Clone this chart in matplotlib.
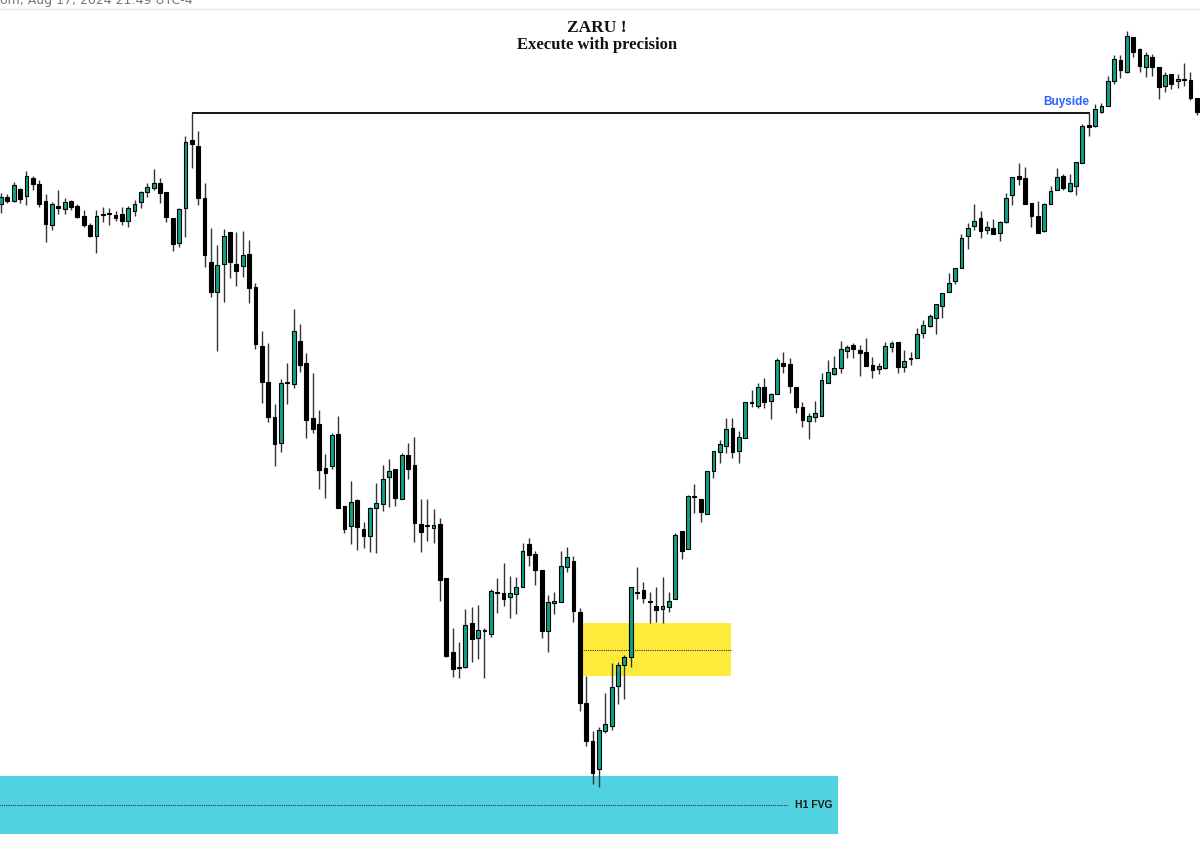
import numpy as np
import matplotlib.pyplot as plt

# OHLC values (arbitrary price units)
opens = [
    796, 802.7, 799.3, 811, 804, 822.3, 816, 799.3, 775, 794,
    791, 799.3, 794, 784, 775, 764.3, 786, 786, 785, 786.3,
    779, 789, 798, 808.3, 812, 817, 808, 782.3, 757, 792,
    860, 854, 802, 738.3, 707.7, 735.7, 768.3, 736, 734, 746,
    713.3, 654.3, 618.3, 582.7, 556.7, 617.7, 616, 659.3, 637.3, 581.7,
    576, 531.7, 534, 566, 494, 474.3, 500, 470.7, 464.3, 492.3,
    495.7, 523.3, 531, 501, 545, 535, 476, 474.7, 472.3, 476,
    421.7, 348.3, 331.7, 332.7, 377.3, 361.7, 369.3, 365.7, 407.7, 407.3,
    402.7, 406, 412.7, 455.7, 446, 430, 369, 397.3, 398.3, 433.3,
    439.3, 388.3, 296.7, 259.3, 230.7, 269, 274.3, 314, 335, 342.7,
    408, 410, 399.3, 394, 390.7, 393.3, 401, 469, 451, 502.7,
    500.7, 485.7, 529.3, 548.3, 554, 572.3, 549, 561.7, 597, 594,
    613.3, 599.3, 606, 637.3, 635.7, 612.7, 592.7, 579.3, 582.7, 584.3,
    617.3, 626, 631.7, 649.3, 655, 650, 648.3, 635.5, 631, 631.7,
    653.3, 658.3, 632.7, 641, 642.3, 667.3, 674, 681.7, 694.3, 708.3,
    719.3, 731.7, 764.3, 774, 781.7, 770, 772.3, 766.7, 778, 805,
    824, 822.3, 796.7, 784.3, 769, 795.7, 810, 824, 809.3, 814.3,
    836.7, 875, 874, 888.3, 894, 919, 940, 928.3, 963, 951,
    933.3, 942.7, 933.3, 914, 926, 919.3, 921, 920, 901.7,
]
highs = [
    807, 806, 818.3, 812, 829, 824, 820, 806, 798, 810,
    802, 800, 796, 790, 777.3, 790, 793, 792, 789.3, 792.7,
    794, 800, 809, 817, 831, 822, 808, 782.3, 792, 864,
    887, 869.3, 817.3, 772, 755, 771, 768.3, 768.3, 769.3, 760,
    717.3, 669, 656.7, 596, 620.7, 636.7, 691, 676, 646.7, 627.3,
    590, 545.7, 566.7, 584.3, 494, 519, 500.7, 478.3, 493.3, 516.7,
    535, 541, 531, 547.3, 556.7, 562.7, 501, 501, 491, 481.7,
    421.7, 371.7, 357.7, 391, 392.7, 395, 371.7, 411, 421.7, 436.7,
    424, 422.7, 456.7, 462.3, 449.3, 430, 405, 408.3, 449.3, 453.3,
    444, 391.7, 324, 269, 273.3, 306.7, 336.7, 338.3, 345, 412.7,
    433.3, 417.7, 408.3, 412.7, 422.7, 408.3, 466.7, 469, 505, 515.7,
    500.7, 529, 549, 560, 582.3, 581.7, 569, 597.7, 610, 617.3,
    622.3, 606.7, 641.7, 647.7, 641.7, 612.7, 597.7, 587.3, 599.3, 627.3,
    640, 644, 659.3, 655, 656.7, 655, 662, 643.5, 636.7, 658.3,
    659, 658.3, 650, 648.3, 672.3, 680, 686, 695.7, 707.3, 727.3,
    732.3, 765.7, 776.7, 796, 789.3, 779, 780.7, 779, 806.7, 823.3,
    836.7, 832.7, 796.7, 799, 796.7, 814, 831.7, 826, 826, 837.7,
    875.7, 887.3, 895.7, 896.7, 924, 945, 945, 969, 963, 951.7,
    948.3, 946, 933.3, 928.3, 926, 925.7, 936.7, 928.3, 901.7,
]
lows = [
    787, 797, 798.3, 797, 795, 810, 793, 758.3, 770, 786,
    786, 790, 782, 773, 763.3, 747.3, 778, 775, 779, 775,
    773, 784, 792, 803.3, 810, 797.3, 778.3, 749.3, 753, 763.3,
    832, 795, 733, 703.3, 649.3, 697.7, 721.7, 714, 723.3, 696.7,
    650.7, 596.7, 578.3, 534, 548.3, 596, 611.7, 628.3, 561.7, 566.7,
    511, 502.3, 530.7, 492.3, 466.7, 456, 450, 451.7, 447.7, 446.7,
    489, 492.7, 494, 501, 520.7, 458.3, 448.3, 459.3, 456.7, 399.3,
    342.7, 322.7, 321.7, 331.7, 338.3, 340.7, 321.7, 363.3, 387.3, 394,
    382.3, 385.7, 412.7, 434.3, 415, 362.3, 348.3, 386, 398.3, 428.3,
    378.3, 289, 254, 216, 212.7, 266.7, 270, 296, 300.7, 332.7,
    401, 396.7, 377.3, 378.3, 376.7, 387.7, 401, 440.7, 451, 487.3,
    478.3, 485.7, 521.7, 537.3, 547.3, 541.7, 536.7, 561.7, 592.7, 592.3,
    592.3, 580.7, 606, 626.7, 606.7, 587.3, 573.3, 560.7, 578.3, 584.3,
    616.7, 625, 627, 641.7, 641.7, 624, 634.3, 622.5, 625.7, 631,
    647.7, 626.7, 627.7, 635, 641.7, 661.7, 673.3, 666, 681.7, 708.3,
    716, 731.7, 750.7, 770, 762.3, 765.7, 765.7, 759.3, 777.3, 795,
    815, 795.7, 773.3, 766.7, 768.3, 795.7, 810, 810, 808.3, 805,
    836.7, 864.3, 872.7, 887.3, 894, 916, 922, 927.3, 943, 928.3,
    923.3, 924, 900.7, 908.3, 910.7, 911.7, 914, 900, 885,
]
closes = [
    803.3, 799, 815, 801, 824, 816.3, 796, 776, 796, 792,
    798.3, 793.3, 783, 775, 764, 784.3, 785, 787.3, 782.3, 779.3,
    792.3, 796, 808, 813, 817.3, 807, 783, 756, 791, 858.3,
    856, 802, 745, 707.7, 735, 764, 737.7, 729.3, 745, 711.7,
    656, 617.7, 582.7, 555.7, 616.7, 616.7, 669, 635, 580, 571,
    530, 526.7, 565, 492.3, 470.7, 498.3, 472.7, 464, 492.3, 496.7,
    521, 529, 502.3, 545, 530.7, 476.7, 468.3, 473.7, 475, 420,
    344, 330.7, 333.3, 375, 361, 370, 370, 409.3, 406.7, 401,
    406.7, 412.7, 449.3, 445, 430, 369.3, 398.3, 399, 434.3, 442.7,
    389.3, 296.7, 259.3, 227.3, 270, 275.7, 312.7, 335, 343.3, 412.7,
    406.7, 401.7, 398.3, 390, 394, 399, 465, 449.3, 504.3, 504.3,
    487.7, 529, 549, 555.7, 571, 548.3, 562.7, 597.7, 598, 613.3,
    598.3, 606, 640, 634, 614, 593.3, 580, 584, 586.7, 620,
    628.3, 631.7, 650.7, 653.3, 651, 647.3, 634.3, 630, 634.3, 654.3,
    656.7, 633.3, 639.3, 641.7, 665.7, 675, 684.3, 695.7, 707.3, 717.3,
    732.3, 762.3, 772.3, 779.3, 769.3, 773.3, 765.7, 778.3, 801.7, 823.3,
    820.7, 795.7, 784.3, 767.3, 796, 809.3, 823.3, 811.7, 817.3, 837.7,
    874.3, 873.3, 890.7, 894, 919, 940.7, 930, 964.5, 948, 934.5,
    945, 933.3, 913.3, 925, 915.7, 921, 920, 901.7, 888.3,
]

# levels / zones
buyside_level = 887
buyside_start, buyside_end = 30, 171.2

m15_top, m15_bottom = 377, 324
m15_start, m15_end = 91.15, 114.7

h1_top, h1_bottom = 224, 166
h1_start, h1_end = -1, 131.6

o = np.array(opens)
h = np.array(highs)
l = np.array(lows)
c = np.array(closes)
x = np.arange(len(o))

fig = plt.figure(figsize=(12, 8.51), dpi=100)
ax = fig.add_axes([0, 0, 1, 1])
ax.set_xlim(-0.16, 188.5)
ax.set_ylim(149, 1000)
ax.axis('off')

# H1 FVG zone
ax.fill_between([h1_start, h1_end], h1_bottom, h1_top, color='#50d2e1', lw=0, zorder=1)
h1_mid = (h1_top + h1_bottom) / 2
ax.hlines(h1_mid, h1_start, 123.7, colors='#333333', linestyles=(0, (1, 1)), lw=0.8, zorder=2)
ax.text(130.8, h1_mid, 'H1 FVG', ha='right', va='center', fontsize=7.5,
        fontweight='bold', family='Liberation Sans', color='#1a1a1a', zorder=2)

# yellow gap
ax.fill_between([m15_start, m15_end], m15_bottom, m15_top, color='#ffeb3b', lw=0, zorder=1)
m15_mid = (m15_top + m15_bottom) / 2
ax.hlines(m15_mid, m15_start, m15_end + 0.2, colors='#333333', linestyles=(0, (1, 1)), lw=0.8, zorder=2)

# buyside liquidity line
ax.hlines(buyside_level, buyside_start, buyside_end, colors='black', lw=1.3, zorder=2)
ax.text(buyside_end - 0.1, buyside_level + 11, 'Buyside', ha='right', va='center',
        fontsize=8.5, fontweight='bold', family='Liberation Sans', color='#2962ff')

# candles
up = c >= o
ax.vlines(x, l, h, colors='#333333', lw=1, zorder=3)
ax.bar(x, c - o, bottom=o, width=0.6, color=np.where(up, '#12a088', '#000000'),
       edgecolor='black', lw=0.8, zorder=4)

# titles
fig.text(0.4975, 1 - 28 / 851, 'ZARU !', ha='center', va='center', fontsize=12.5,
         fontweight='bold', family='Liberation Serif', color='#111111')
fig.text(0.4975, 1 - 45 / 851, 'Execute with precision', ha='center', va='center',
         fontsize=12, fontweight='bold', family='Liberation Serif', color='#111111')

# snapshot header (cut at the top edge, as in the screenshot)
fig.text(0.0, 1 - 4 / 851, 'om, Aug 17, 2024 21:49 UTC-4', ha='left', va='baseline',
         fontsize=9, color='#777777')
fig.add_artist(plt.Line2D([0, 1], [1 - 9 / 851, 1 - 9 / 851], color='#e6e6e6', lw=1,
                          transform=fig.transFigure))

fig.savefig('out.png', dpi=100)
